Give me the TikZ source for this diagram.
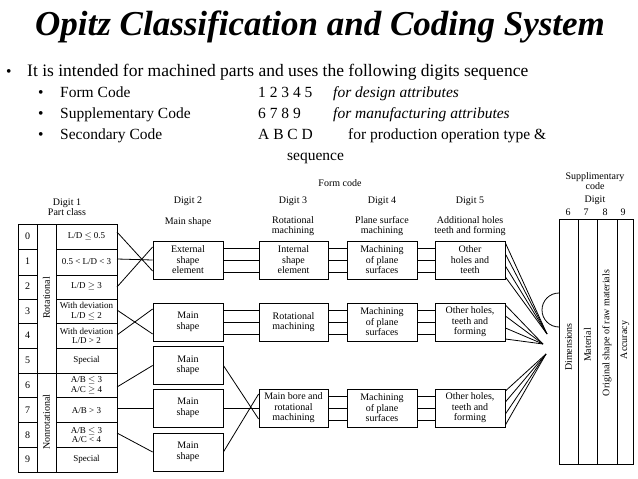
\documentclass[tikz,border=0pt]{standalone}
\usepackage{fontspec}
\setmainfont{Liberation Serif}
\begin{document}
\begin{tikzpicture}[x=1pt,y=-1pt,
  bx/.style={draw,thick,minimum width=70pt,minimum height=38pt,inner sep=0pt,align=center,font=\fontsize{10}{10.5}\selectfont},
  sm/.style={font=\fontsize{10}{10.5}\selectfont,align=center,inner sep=0pt},
  tb/.style={font=\fontsize{9}{9.5}\selectfont,align=center,inner sep=0pt},
  bt/.style={font=\fontsize{15.5}{18}\selectfont,anchor=base west,inner sep=0pt},
  ln/.style={thick}]
\useasboundingbox (0,0) rectangle (638,479);
% header
\node[font=\fontsize{35}{38}\bfseries\itshape\selectfont,inner sep=0pt] (title) at (320,27) {Opitz Classification and Coding System};
\node[bt] (b0) at (6,76) {•};
\node[bt,font=\fontsize{17.5}{20}\selectfont] (t0) at (27,76) {It is intended for machined parts and uses the following digits sequence};
\node[bt] (b1) at (38,97) {•}; \node[bt] (t1) at (60,97) {Form Code};
\node[bt] (c1) at (258,97) {1 2 3 4 5}; \node[bt,font=\fontsize{15.5}{18}\itshape\selectfont] (d1) at (333,97) {for design attributes};
\node[bt] (b2) at (38,118) {•}; \node[bt] (t2) at (60,118) {Supplementary Code};
\node[bt] (c2) at (258,118) {6 7 8 9}; \node[bt,font=\fontsize{15.5}{18}\itshape\selectfont] (d2) at (333,118) {for manufacturing attributes};
\node[bt] (b3) at (38,139) {•}; \node[bt] (t3) at (60,139) {Secondary Code};
\node[bt] (c3) at (258,139) {A B C D}; \node[bt] (d3) at (348,139) {for production operation type \&};
\node[bt] (d4) at (287,160) {sequence};
% headings
\node[sm] (fc) at (340,183) {Form code};
\node[sm] (h1) at (67,207) {Digit 1\\Part class};
\node[sm] (h2) at (188,201) {Digit 2};
\node[sm] (h2b) at (188,222) {Main shape};
\node[sm] (h3) at (293,201) {Digit 3};
\node[sm] (h3b) at (293,226) {Rotational\\machining};
\node[sm] (h4) at (382,201) {Digit 4};
\node[sm] (h4b) at (382,226) {Plane surface\\machining};
\node[sm] (h5) at (470,201) {Digit 5};
\node[sm] (h5b) at (470,226) {Additional holes\\teeth and forming};
\node[sm] (sc) at (595,181) {Supplimentary\\code};
\node[sm] (sd) at (595,200) {Digit};
\foreach \d/\x in {6/568,7/586,8/605,9/623} \node[sm] (sd\d) at (\x,212) {\d};
% digit 1 table
\draw[thick] (18,224) rectangle (117,472);
\draw[thick] (37,224) -- (37,472) (56,224) -- (56,472);
\foreach \y in {249,275,299,323,348,373,397,422,447} \draw[thick] (18,\y) -- (37,\y) (56,\y) -- (117,\y);
\draw[thick] (37,373) -- (56,373);
\node[sm,rotate=90] (rot) at (46.5,298) {Rotational};
\node[sm,rotate=90] (nrot) at (46.5,422) {Nonrotational};
\foreach \i/\t [count=\k from 0] in {0/{L/D $\le$ 0.5},1/{0.5 < L/D < 3},2/{L/D $\ge$ 3},3/{With deviation\\L/D $\le$ 2},4/{With deviation\\L/D > 2},5/{Special},6/{A/B $\le$ 3\\A/C $\ge$ 4},7/{A/B > 3},8/{A/B $\le$ 3\\A/C < 4},9/{Special}} {
  \node[sm] (n\i) at (27.5,236.5+24.8*\k) {\i};
  \node[tb] (r\i) at (86.5,236.5+24.8*\k) {\t};
}
\foreach \i/\y in {0/232,1/259,2/287,3/310,4/335,6/387,7/408,8/433} \coordinate (e\i) at (117,\y);
% digit 2
\node[bx] (a1) at (188,260) {External\\shape\\element};
\node[bx] (a2) at (188,322) {Main\\shape};
\node[bx] (a3) at (188,365.5) {Main\\shape};
\node[bx] (a4) at (188,408) {Main\\shape};
\node[bx] (a5) at (188,452) {Main\\shape};
% digit 3-5
\node[bx,minimum width=69pt] (p1) at (293.5,260) {Internal\\shape\\element};
\node[bx,minimum width=69pt] (p2) at (293.5,322) {Rotational\\machining};
\node[bx,minimum width=69pt] (p3) at (293.5,408) {Main bore and\\rotational\\machining};
\foreach \r/\y in {1/260,2/322,3/408} {
  \node[bx] (q\r) at (382,\y) {Machining\\of plane\\surfaces};
}
\node[bx] (s1) at (470,260) {Other\\holes and\\teeth};
\node[bx] (s2) at (470,322) {Other holes,\\teeth and\\forming};
\node[bx] (s3) at (470,408) {Other holes,\\teeth and\\forming};
% parallel connectors
\foreach \r in {1,2,3} {
  \foreach \o in {-12,0,12} {
    \draw[ln] ([yshift=\o]p\r.east) -- ([yshift=\o]q\r.west);
    \draw[ln] ([yshift=\o]q\r.east) -- ([yshift=\o]s\r.west);
  }
}
\foreach \r in {1,2} \foreach \o in {-12,0,12} \draw[ln] ([yshift=\o]a\r.east) -- ([yshift=\o]p\r.west);
% digit1 -> digit2
\draw[ln] (e0) -- ([yshift=-11]a1.west);
\draw[ln] (e1) -- (a1.west);
\draw[ln] (e2) -- ([yshift=13]a1.west);
\draw[ln] (e3) -- ([yshift=-12]a2.west);
\draw[ln] (e4) -- ([yshift=13]a2.west);
\draw[ln] (e6) -- (a3.west);
\draw[ln] (e7) -- (a4.west);
\draw[ln] (e8) -- (a5.west);
% digit2 -> digit3
\draw[ln] (a3.east) -- ([yshift=-11]p3.west);
\draw[ln] (a4.east) -- (p3.west);
\draw[ln] (a5.east) -- ([yshift=14]p3.west);
% supplementary table
\draw[thick] (559,219) rectangle (633,464);
\draw[thick] (578,219) -- (578,464) (597,219) -- (597,464) (617,219) -- (617,464);
\node[sm,rotate=90] (v6) at (568.5,347) {Dimensions};
\node[sm,rotate=90] (v7) at (587.5,345) {Material};
\node[sm,rotate=90] (v8) at (607,333) {Original shape of raw materials};
\node[sm,rotate=90] (v9) at (625,340) {Accuracy};
% semicircle
\draw[thick] (559,327) arc (90:270:17);
\coordinate (k1) at (547,334);
\coordinate (k2) at (543,344);
\coordinate (k3) at (546,354);
\foreach \r/\k in {1/k1,2/k2,3/k3} \foreach \o in {-17,-6,6,17} \draw[ln] ([yshift=\o]s\r.east) -- (\k);
\end{tikzpicture}
\end{document}
